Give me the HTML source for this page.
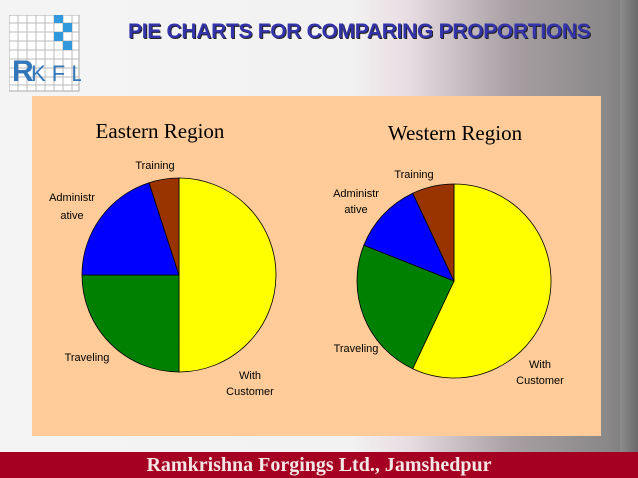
<!DOCTYPE html>
<html><head><meta charset="utf-8"><style>
body{margin:0;width:638px;height:478px;overflow:hidden;position:relative;font-family:"Liberation Sans",sans-serif;}
#bg{position:absolute;left:0;top:0;width:638px;height:452px;background:linear-gradient(90deg,#f4f4f4 0%,#f2f2f2 55%,#e8dde2 64%,#a8a0a4 80%,#8a8888 95%,#777 100%);}
#edge{position:absolute;right:0;top:0;width:18px;height:452px;background:linear-gradient(90deg,#8c8c8c,#6a6a6a);}
#title{position:absolute;left:128px;top:20px;font-size:21px;font-weight:bold;color:#3333aa;text-shadow:1px 1px 0 #222;letter-spacing:-0.3px;}
#footer{position:absolute;left:0;top:452px;width:638px;height:26px;background:#a50021;color:#f5e6e6;font-family:"Liberation Serif",serif;font-weight:bold;font-size:20px;text-align:center;line-height:26px;}
#panel{position:absolute;left:32px;top:96px;width:569px;height:340px;background:#ffcc99;}
</style></head><body>
<div id="bg"></div>
<div id="edge"></div>
<svg style="position:absolute;left:9px;top:15px" width="72" height="78">
<rect x="0" y="0" width="70" height="76" fill="#fff" stroke="#aaa"/>
<g stroke="#bbb" stroke-width="1">
<line x1="0" y1="8" x2="70" y2="8"/><line x1="0" y1="17" x2="70" y2="17"/><line x1="0" y1="26" x2="70" y2="26"/><line x1="0" y1="35" x2="70" y2="35"/><line x1="0" y1="44" x2="70" y2="44"/><line x1="0" y1="53" x2="70" y2="53"/><line x1="0" y1="62" x2="70" y2="62"/><line x1="0" y1="70" x2="70" y2="70"/>
<line x1="9" y1="0" x2="9" y2="76"/><line x1="18" y1="0" x2="18" y2="76"/><line x1="27" y1="0" x2="27" y2="76"/><line x1="36" y1="0" x2="36" y2="76"/><line x1="45" y1="0" x2="45" y2="76"/><line x1="54" y1="0" x2="54" y2="76"/><line x1="63" y1="0" x2="63" y2="76"/></g>
<rect x="45" y="0" width="9" height="8" fill="#3399dd"/><rect x="54" y="8" width="9" height="9" fill="#3399dd"/><rect x="45" y="17" width="9" height="9" fill="#3399dd"/><rect x="54" y="26" width="9" height="9" fill="#3399dd"/>
<text x="3" y="66" font-size="30" font-family="Liberation Sans" fill="#3377bb" font-weight="bold">R</text>
<text x="22" y="66" font-size="22" font-family="Liberation Sans" fill="#3377bb">K F L</text>
</svg>
<div id="title">PIE CHARTS FOR COMPARING PROPORTIONS</div>
<div id="panel"></div>
<svg id="chart" style="position:absolute;left:0;top:0" width="638" height="478"></svg>
<div id="footer">Ramkrishna Forgings Ltd., Jamshedpur</div>
<script>
const categories=["With Customer","Traveling","Administrative","Training"];
const easternValues=[50,25,20,5];
const westernValues=[57,24,12,7];
const colors=["#ffff00","#008000","#0000ff","#993300"];
const svg=document.getElementById('chart');
const NS="http://www.w3.org/2000/svg";
function txt(x,y,s,size,fam,anchor,name){const t=document.createElementNS(NS,'text');t.setAttribute('x',x);t.setAttribute('y',y);t.setAttribute('font-size',size);t.setAttribute('font-family',fam);t.setAttribute('text-anchor',anchor||'middle');t.textContent=s;


svg.appendChild(t);}
function pie(cx,cy,r,vals,prefix){const tot=vals.reduce((a,b)=>a+b,0);let a0=0;
vals.forEach((v,i)=>{const a1=a0+v/tot*2*Math.PI;
const x0=cx+r*Math.sin(a0),y0=cy-r*Math.cos(a0),x1=cx+r*Math.sin(a1),y1=cy-r*Math.cos(a1);
const p=document.createElementNS(NS,'path');
p.setAttribute('d',`M${cx},${cy}L${x0},${y0}A${r},${r} 0 ${a1-a0>Math.PI?1:0} 1 ${x1},${y1}Z`);
p.setAttribute('fill',colors[i]);p.setAttribute('stroke','#000');p.setAttribute('stroke-width','0.8');


svg.appendChild(p);a0=a1;});}
pie(179,275,97,easternValues,'eastern');
pie(454,281,97,westernValues,'western');
const F="Liberation Sans";
txt(160,138,"Eastern Region",21,"Liberation Serif","middle","eastern-title");
txt(455,140,"Western Region",21,"Liberation Serif","middle","western-title");
txt(155,169,"Training",11,F,"middle","eastern-label-training");
txt(72,201,"Administr",11,F,"middle","eastern-label-administrative");
txt(72,219,"ative",11,F,"middle","eastern-label-administrative-2");
txt(87,361,"Traveling",11,F,"middle","eastern-label-traveling");
txt(250,379,"With",11,F,"middle","eastern-label-with");
txt(250,395,"Customer",11,F,"middle","eastern-label-customer");
txt(414,178,"Training",11,F,"middle","western-label-training");
txt(356,197,"Administr",11,F,"middle","western-label-administrative");
txt(356,213,"ative",11,F,"middle","western-label-administrative-2");
txt(356,352,"Traveling",11,F,"middle","western-label-traveling");
txt(540,368,"With",11,F,"middle","western-label-with");
txt(540,384,"Customer",11,F,"middle","western-label-customer");
</script>
</body></html>
